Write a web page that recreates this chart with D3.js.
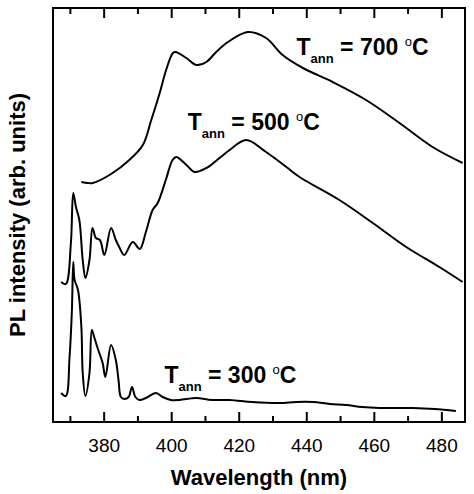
<!DOCTYPE html>
<html>
<head>
<meta charset="utf-8">
<script src="https://cdn.jsdelivr.net/npm/d3@7"></script>
<style>
  body { margin: 0; background: #fff; }
  svg { display: block; font-family: "Liberation Sans", Arial, sans-serif; }
</style>
</head>
<body>
<div id="chart"></div>
<script>
// wavelength (nm) / PL intensity (arb. units)
const wl_700 = [373.4, 375.3, 376.8, 382.2, 387.6, 391.6, 394.1, 396.6, 398.5, 400.5, 401.3, 404.5, 407.4, 410.4, 413.3, 416.8, 422.7, 428.1, 433.0, 439.0, 447.8, 457.7, 467.6, 477.4, 486.3];
const pl_700 = [240, 239, 239, 248, 262, 277, 302, 329, 352, 369, 370, 364, 357, 360, 370, 380, 390, 384, 367, 354, 340, 322, 299, 275, 259];

const wl_500 = [367.4, 368.8, 370.3, 371.0, 371.8, 372.8, 373.8, 374.6, 375.8, 376.7, 377.7, 378.9, 380.2, 382.2, 383.6, 384.6, 386.1, 388.6, 390.7, 392.5, 394.5, 396.0, 398.4, 400.4, 401.5, 404.5, 406.9, 410.4, 414.3, 417.3, 422.2, 428.1, 434.1, 438.0, 449.8, 459.7, 469.6, 479.4, 486.3];
const pl_500 = [140, 138, 179, 229, 215, 202, 162, 144, 162, 194, 184, 182, 167, 194, 182, 175, 167, 180, 173, 190, 212, 219, 242, 262, 265, 257, 250, 254, 264, 272, 282, 270, 255, 245, 222, 199, 175, 155, 140];

const wl_300 = [367.4, 368.8, 369.9, 370.6, 371.0, 371.4, 372.4, 373.4, 373.8, 374.6, 375.8, 376.5, 377.2, 378.2, 379.7, 380.5, 382.2, 383.6, 384.4, 385.1, 386.1, 387.4, 388.4, 389.4, 390.6, 392.5, 395.5, 397.5, 399.9, 402.5, 407.4, 412.0, 417.3, 424.0, 432.1, 437.0, 441.9, 447.0, 451.8, 456.5, 461.7, 466.0, 471.5, 478.0, 484.3];
const pl_300 = [29, 26, 65, 112, 160, 142, 132, 95, 49, 26, 49, 92, 85, 74, 59, 45, 77, 62, 42, 25, 23, 25, 35, 25, 22, 24, 29, 25, 22, 22, 24, 22, 22, 20, 19, 20, 20, 18, 17, 15, 14, 14, 14, 13, 11];

const x_ticks_major = [380, 400, 420, 440, 460, 480];
const x_ticks_minor = [370, 390, 410, 430, 450, 470];

const labels = [
    { temp: '700', wl: 437.1, pl: 367 },
    { temp: '500', wl: 404.9, pl: 292 },
    { temp: '300', wl: 398.0, pl: 38.7 }
];

const chart_width = 474;
const chart_height = 494;
const plot_left = 53, plot_right = 465, plot_top = 8, plot_bottom = 422;

const svg = d3.select('#chart')
    .append('svg')
    .attr('width', chart_width)
    .attr('height', chart_height);

svg.append('rect')
    .attr('width', chart_width)
    .attr('height', chart_height)
    .attr('fill', '#fff');

// Scales
const x_scale = d3.scaleLinear()
    .domain([365, 487])
    .range([plot_left, plot_right]);

const y_scale = d3.scaleLinear()
    .domain([0, 414])
    .range([plot_bottom, plot_top]);

// Axes (ticks pointing inward, top axis mirrored without labels)
svg.append('g')
    .attr('transform', `translate(0, ${plot_bottom})`)
    .call(d3.axisBottom(x_scale).tickValues(x_ticks_major).tickSize(-10).tickPadding(17))
    .call(g => g.select('.domain').remove())
    .call(g => g.selectAll('line').attr('stroke', '#000').attr('stroke-width', 2))
    .call(g => g.selectAll('text')
        .attr('font-size', 19)
        .attr('font-family', '"Liberation Sans", Arial, sans-serif')
        .attr('fill', '#000'));

svg.append('g')
    .attr('transform', `translate(0, ${plot_bottom})`)
    .call(d3.axisBottom(x_scale).tickValues(x_ticks_minor).tickSize(-6).tickFormat(''))
    .call(g => g.select('.domain').remove())
    .call(g => g.selectAll('line').attr('stroke', '#000').attr('stroke-width', 2));

svg.append('g')
    .attr('transform', `translate(0, ${plot_top})`)
    .call(d3.axisTop(x_scale).tickValues(x_ticks_major).tickSize(-10).tickFormat(''))
    .call(g => g.select('.domain').remove())
    .call(g => g.selectAll('line').attr('stroke', '#000').attr('stroke-width', 2));

svg.append('g')
    .attr('transform', `translate(0, ${plot_top})`)
    .call(d3.axisTop(x_scale).tickValues(x_ticks_minor).tickSize(-6).tickFormat(''))
    .call(g => g.select('.domain').remove())
    .call(g => g.selectAll('line').attr('stroke', '#000').attr('stroke-width', 2));

// Frame
svg.append('rect')
    .attr('x', plot_left)
    .attr('y', plot_top)
    .attr('width', plot_right - plot_left)
    .attr('height', plot_bottom - plot_top)
    .attr('fill', 'none')
    .attr('stroke', '#000')
    .attr('stroke-width', 2);

// Curves
const line = d3.line()
    .x(d => x_scale(d[0]))
    .y(d => y_scale(d[1]))
    .curve(d3.curveCatmullRom.alpha(0.5));

const series = [
    d3.zip(wl_700, pl_700),
    d3.zip(wl_500, pl_500),
    d3.zip(wl_300, pl_300)
];

svg.append('g')
    .selectAll('path')
    .data(series)
    .enter()
    .append('path')
    .attr('d', line)
    .attr('fill', 'none')
    .attr('stroke', '#000')
    .attr('stroke-width', 2)
    .attr('stroke-linejoin', 'round');

// Annotations
const ann = svg.append('g')
    .selectAll('text')
    .data(labels)
    .enter()
    .append('text')
    .attr('x', d => x_scale(d.wl))
    .attr('y', d => y_scale(d.pl))
    .attr('font-weight', 'bold')
    .attr('font-size', 23)
    .attr('fill', '#000');

ann.append('tspan').text('T');
ann.append('tspan').attr('font-size', 13).attr('dy', 8).text('ann');
ann.append('tspan').attr('dy', -8).text(d => ` = ${d.temp} `);
ann.append('tspan').attr('font-size', 13).attr('font-weight', 'normal').attr('dy', -9).text('o');
ann.append('tspan').attr('dy', 9).text('C');

// Axis titles
svg.append('text')
    .attr('x', (plot_left + plot_right) / 2)
    .attr('y', 485)
    .attr('text-anchor', 'middle')
    .attr('font-weight', 'bold')
    .attr('font-size', 22)
    .text('Wavelength (nm)');

svg.append('text')
    .attr('transform', `translate(25, ${(plot_top + plot_bottom) / 2}) rotate(-90)`)
    .attr('text-anchor', 'middle')
    .attr('font-weight', 'bold')
    .attr('font-size', 22)
    .text('PL intensity (arb. units)');
</script>
</body>
</html>
